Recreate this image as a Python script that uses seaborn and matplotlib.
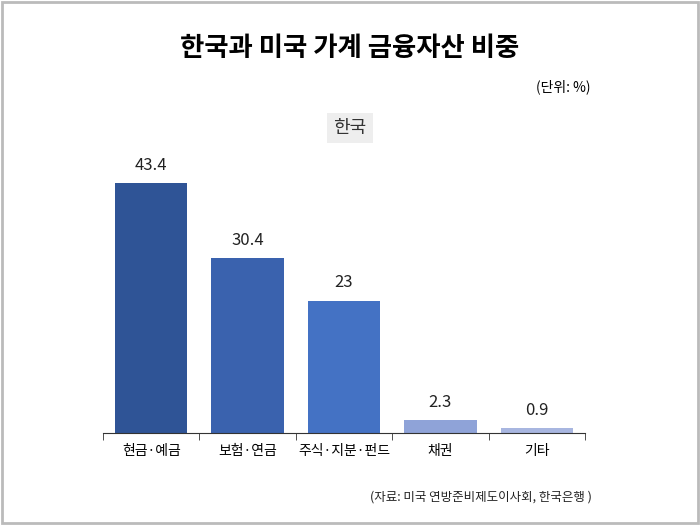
import matplotlib
matplotlib.use("Agg")
import matplotlib.pyplot as plt
from matplotlib import font_manager as fm
import seaborn as sns
import numpy as np
from matplotlib.patches import Rectangle

categories = ["현금·예금", "보험·연금", "주식·지분·펀드", "채권", "기타"]
values = [43.4, 30.4, 23, 2.3, 0.9]
labels = ["43.4", "30.4", "23", "2.3", "0.9"]
colors = ["#2F5496", "#3A62AE", "#4472C4", "#8FA3D8", "#A8B6E0"]

names = sorted({f.name for f in fm.fontManager.ttflist if "CJK" in f.name})
pref = [n for n in names if "KR" in n] or names
fam = pref[0] if pref else "DejaVu Sans"
if not pref:
    import glob
    for p in glob.glob("/usr/share/fonts/**/*CJK*", recursive=True):
        try:
            fm.fontManager.addfont(p)
        except Exception:
            pass
    names = sorted({f.name for f in fm.fontManager.ttflist if "CJK" in f.name})
    pref = [n for n in names if "KR" in n] or names
    fam = pref[0] if pref else "DejaVu Sans"
plt.rcParams["font.family"] = [fam, "DejaVu Sans"]

fig = plt.figure(figsize=(7, 5.25), dpi=100)
fig.patches.append(Rectangle((0.003, 0.003), 0.994, 0.994, transform=fig.transFigure,
                             fill=False, edgecolor="#BBBBBB", linewidth=2))
ax = fig.add_axes([103/700, 1-433/525, (585-103)/700, (433-145)/525])
sns.barplot(x=categories, y=values, palette=colors, hue=categories, legend=False,
            ax=ax, width=0.75, saturation=1)
ax.set_ylim(0, 50)
ax.set_xlim(-0.5, 4.5)
for i, (v, l) in enumerate(zip(values, labels)):
    ax.text(i, v + 1.6, l, ha="center", va="bottom", fontsize=12, color="#222222")
for s in ["top", "right", "left"]:
    ax.spines[s].set_visible(False)
ax.spines["bottom"].set_color("#333333")
ax.set_yticks([])
ax.set_xlabel(""); ax.set_ylabel("")
ax.set_xticks(np.arange(-0.5, 5, 1), minor=True)
ax.tick_params(axis="x", which="major", length=0, labelsize=10, pad=8)
ax.tick_params(axis="x", which="minor", length=5, color="#333333")
fig.text(0.5, 1-48/525, "한국과 미국 가계 금융자산 비중", ha="center", va="center",
         fontsize=19, fontweight="bold")
fig.text(590/700, 1-87/525, "(단위: %)", ha="right", va="center", fontsize=10)
fig.text(350/700, 1-128/525, "한국", ha="center", va="center", fontsize=13, color="#333333",
         bbox=dict(boxstyle="square,pad=0.35", facecolor="#EEEEEE", edgecolor="none"))
fig.text(592/700, 1-497/525, "(자료: 미국 연방준비제도이사회, 한국은행 )", ha="right", va="center",
         fontsize=9, color="#222222")
fig.savefig("out.png", dpi=100)
